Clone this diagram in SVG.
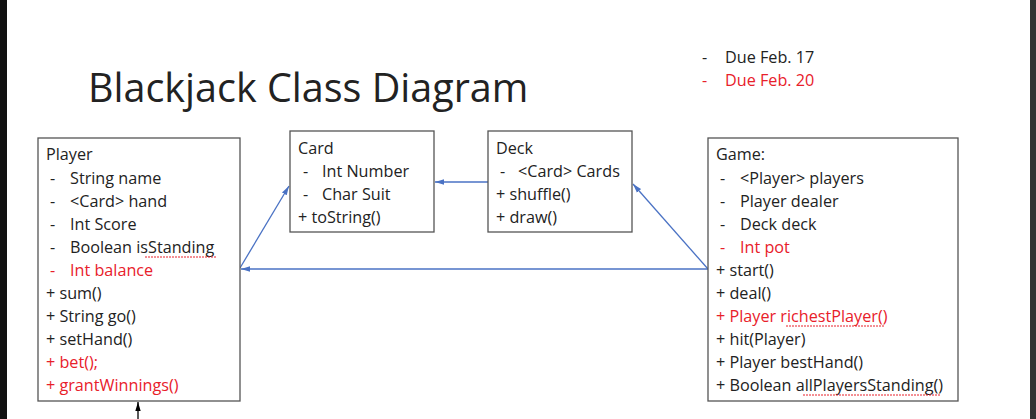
<svg xmlns="http://www.w3.org/2000/svg" width="1036" height="419" viewBox="0 0 1036 419">
<defs>
<style>
text{font-family:"Open Sans","Liberation Sans",sans-serif;font-size:16.2px;fill:#222}
.r{fill:#e8202a}
.box{fill:#fff;stroke:#555;stroke-width:1.3}
.c{stroke:#4a72c4;stroke-width:1.3;fill:none}
.sq{stroke:#e8202a;stroke-width:1;fill:none;stroke-dasharray:2 1}
</style>
<marker id="a" viewBox="0 0 10 10" refX="10" refY="5" markerWidth="7" markerHeight="7" orient="auto"><path d="M0,2 L10,5 L0,8 z" fill="#4a72c4"/></marker>
<marker id="b" viewBox="0 0 10 10" refX="10" refY="5" markerWidth="7" markerHeight="7" orient="auto"><path d="M0,2 L10,5 L0,8 z" fill="#000"/></marker>
</defs>
<rect width="1036" height="419" fill="#fff"/>
<rect x="0" y="0" width="7" height="419" fill="#111"/>
<rect x="1030" y="0" width="6" height="419" fill="#333"/>
<text x="88" y="102" style="font-size:39.5px">Blackjack Class Diagram</text>
<text x="702" y="63">-</text><text x="725" y="63">Due Feb. 17</text>
<text x="702" y="86" class="r">-</text><text x="725" y="86" class="r">Due Feb. 20</text>
<g id="connectors">
<line class="c" x1="488" y1="182" x2="435" y2="182" marker-end="url(#a)"/>
<line class="c" x1="240" y1="268" x2="289" y2="186" marker-end="url(#a)"/>
<line class="c" x1="708" y1="269" x2="241" y2="269" marker-end="url(#a)"/>
<line class="c" x1="708" y1="269" x2="633" y2="184" marker-end="url(#a)"/>
<line x1="138" y1="419" x2="138" y2="402" stroke="#000" stroke-width="1.3" marker-end="url(#b)"/>
</g>
<g id="player">
<rect class="box" x="38" y="138" width="202" height="263"/>
<text x="46" y="160">Player</text>
<text x="50" y="184">-</text><text x="70" y="184">String name</text>
<text x="50" y="207">-</text><text x="70" y="207">&lt;Card&gt; hand</text>
<text x="50" y="230">-</text><text x="70" y="230">Int Score</text>
<text x="50" y="253">-</text><text x="70" y="253">Boolean isStanding</text>
<path class="sq" d="M145,257 h72"/>
<text x="50" y="276" class="r">-</text><text x="70" y="276" class="r">Int balance</text>
<text x="46" y="299">+ sum()</text>
<text x="46" y="322">+ String go()</text>
<text x="46" y="345">+ setHand()</text>
<text x="46" y="368" class="r">+ bet();</text>
<text x="46" y="391" class="r">+ grantWinnings()</text>
</g>
<g id="card">
<rect class="box" x="290" y="131" width="144" height="101"/>
<text x="298" y="154">Card</text>
<text x="303" y="177">-</text><text x="322" y="177">Int Number</text>
<text x="303" y="200">-</text><text x="322" y="200">Char Suit</text>
<text x="298" y="223">+ toString()</text>
</g>
<g id="deck">
<rect class="box" x="488" y="131" width="144" height="101"/>
<text x="496" y="154">Deck</text>
<text x="500" y="177">-</text><text x="518" y="177">&lt;Card&gt; Cards</text>
<text x="496" y="200">+ shuffle()</text>
<text x="496" y="223">+ draw()</text>
</g>
<g id="game">
<rect class="box" x="708" y="138" width="250" height="263"/>
<text x="716" y="160">Game:</text>
<text x="720" y="184">-</text><text x="740" y="184">&lt;Player&gt; players</text>
<text x="720" y="207">-</text><text x="740" y="207">Player dealer</text>
<text x="720" y="230">-</text><text x="740" y="230">Deck deck</text>
<text x="720" y="253" class="r">-</text><text x="740" y="253" class="r">Int pot</text>
<text x="716" y="276">+ start()</text>
<text x="716" y="299">+ deal()</text>
<text x="716" y="322" class="r">+ Player richestPlayer()</text>
<path class="sq" d="M786,326 h98"/>
<text x="716" y="345">+ hit(Player)</text>
<text x="716" y="368">+ Player bestHand()</text>
<text x="716" y="391">+ Boolean allPlayersStanding()</text>
<path class="sq" d="M803,395 h138"/>
</g>
</svg>
